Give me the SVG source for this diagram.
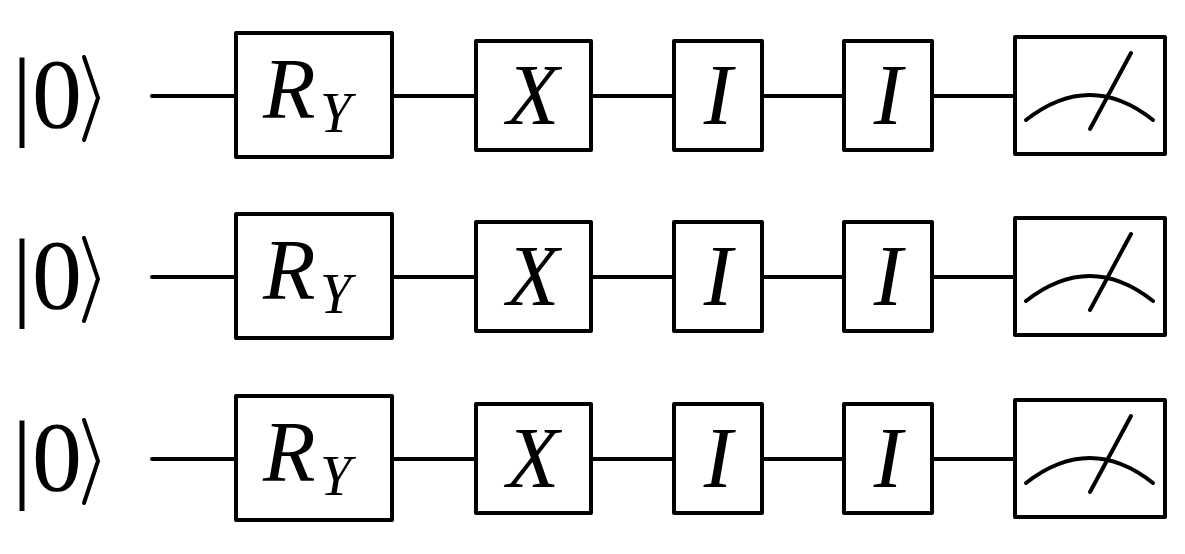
<svg xmlns="http://www.w3.org/2000/svg" width="1185" height="554" viewBox="0 0 1185 554" font-family="'Liberation Serif','Times New Roman',Times,serif">
<style>
.w{stroke:#000;stroke-width:4;fill:none;stroke-linecap:round}
.b{stroke:#000;stroke-width:4;fill:#fff;stroke-linejoin:round}
.t{font-family:'Liberation Serif','Times New Roman',Times,serif;font-style:italic;fill:#000}
.k{font-family:'Liberation Serif','Times New Roman',Times,serif;font-size:100px;fill:#000}
</style>
<g id="connectors">
<path class="w" d="M152,96H236M392,96H476M591,96H674M762,96H844M932,96H1015"/>
<path class="w" d="M152,277H236M392,277H476M591,277H674M762,277H844M932,277H1015"/>
<path class="w" d="M152,459H236M392,459H476M591,459H674M762,459H844M932,459H1015"/>
</g>
<g id="q0"><text class="k" x="12" y="127">|0</text><path class="w" d="M84,57 L98,98 L84,140"/></g>
<g id="q1"><text class="k" x="12" y="308">|0</text><path class="w" d="M84,238 L98,279 L84,321"/></g>
<g id="q2"><text class="k" x="12" y="490">|0</text><path class="w" d="M84,420 L98,461 L84,503"/></g>
<g id="rows">
<g id="r0">
<g id="ry0"><rect class="b" x="236" y="33" width="156" height="124"/><text class="t" x="263" y="118" font-size="86">R</text><text class="t" x="320" y="132" font-size="56">Y</text></g>
<g id="x0"><rect class="b" x="476" y="41" width="115" height="109"/><text class="t" x="533" y="124" font-size="86" text-anchor="middle">X</text></g>
<g id="i0a"><rect class="b" x="674" y="41" width="88" height="109"/><text class="t" x="718" y="124" font-size="86" text-anchor="middle">I</text></g>
<g id="i0b"><rect class="b" x="844" y="41" width="88" height="109"/><text class="t" x="888" y="124" font-size="86" text-anchor="middle">I</text></g>
<g id="m0"><rect class="b" x="1015" y="37" width="150" height="117"/><path class="w" d="M1026,120 Q1090,70 1153,120M1090,129L1131,53"/></g>
</g>
<g id="r1" transform="translate(0,181)">
<g id="ry1"><rect class="b" x="236" y="33" width="156" height="124"/><text class="t" x="263" y="118" font-size="86">R</text><text class="t" x="320" y="132" font-size="56">Y</text></g>
<g id="x1"><rect class="b" x="476" y="41" width="115" height="109"/><text class="t" x="533" y="124" font-size="86" text-anchor="middle">X</text></g>
<g id="i1a"><rect class="b" x="674" y="41" width="88" height="109"/><text class="t" x="718" y="124" font-size="86" text-anchor="middle">I</text></g>
<g id="i1b"><rect class="b" x="844" y="41" width="88" height="109"/><text class="t" x="888" y="124" font-size="86" text-anchor="middle">I</text></g>
<g id="m1"><rect class="b" x="1015" y="37" width="150" height="117"/><path class="w" d="M1026,120 Q1090,70 1153,120M1090,129L1131,53"/></g>
</g>
<g id="r2" transform="translate(0,363)">
<g id="ry2"><rect class="b" x="236" y="33" width="156" height="124"/><text class="t" x="263" y="118" font-size="86">R</text><text class="t" x="320" y="132" font-size="56">Y</text></g>
<g id="x2"><rect class="b" x="476" y="41" width="115" height="109"/><text class="t" x="533" y="124" font-size="86" text-anchor="middle">X</text></g>
<g id="i2a"><rect class="b" x="674" y="41" width="88" height="109"/><text class="t" x="718" y="124" font-size="86" text-anchor="middle">I</text></g>
<g id="i2b"><rect class="b" x="844" y="41" width="88" height="109"/><text class="t" x="888" y="124" font-size="86" text-anchor="middle">I</text></g>
<g id="m2"><rect class="b" x="1015" y="37" width="150" height="117"/><path class="w" d="M1026,120 Q1090,70 1153,120M1090,129L1131,53"/></g>
</g>
</g>
</svg>
